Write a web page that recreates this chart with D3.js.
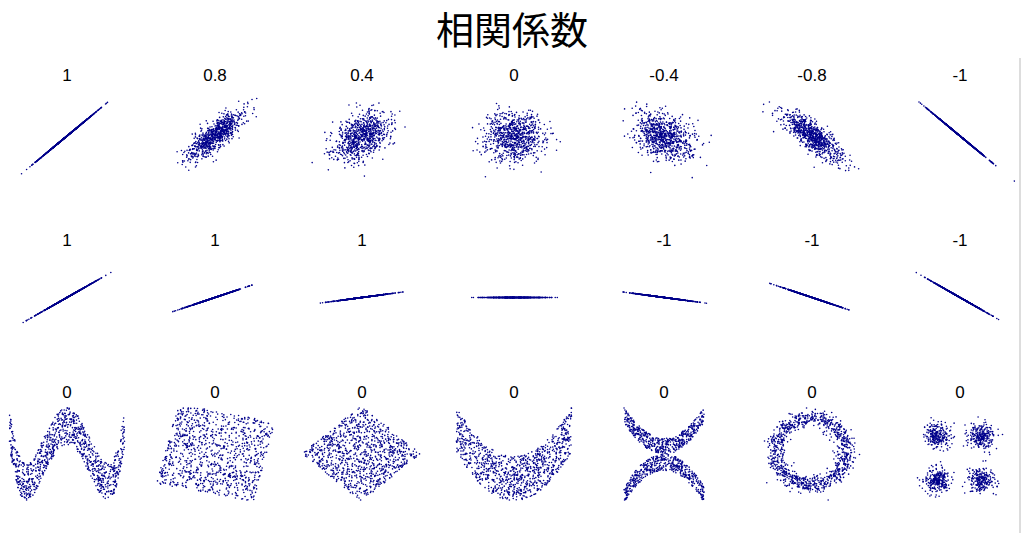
<!DOCTYPE html><html><head><meta charset="utf-8">
<script src="https://cdn.jsdelivr.net/npm/d3@7"></script>
<style>body{margin:0;background:#fff}text{font-family:"Liberation Sans",Arial,sans-serif}</style></head><body>
<svg id="c" width="1024" height="533"></svg>
<script>
const title="相関係数";
const row1Labels=["1","0.8","0.4","0","-0.4","-0.8","-1"];
const row1Corr=[1,0.8,0.4,0,-0.4,-0.8,-1];
const row2Labels=["1","1","1","","-1","-1","-1"];
const row2Slopes=[0.85,0.5,0.2,0,-0.2,-0.5,-0.85];
const row3Labels=["0","0","0","0","0","0","0"];
const row3Shapes=["w","tilt","diamond","parabola","x","ring","clusters"];
const colCenters=[67,215,362,514,664,812,960];

const svg=d3.select("#c");
const col="#00008b";
svg.append("text").attr("x",512).attr("y",44).attr("text-anchor","middle")
 .style("font-family","'Noto Sans CJK JP'").attr("font-size",38).text(title);
svg.append("line").attr("x1",1020).attr("x2",1020).attr("y1",58).attr("y2",533).attr("stroke","#bbb");

function h(i,s){const v=Math.sin(i*12.9898+s*78.233)*43758.5453;return v-Math.floor(v);}
function samp(n,off){const a=[];for(let i=1;i<=n;i++){const k=i+off;
 const u1=Math.max(h(k,1),1e-6),u2=h(k,2),u3=h(k,3),u4=h(k,4),u5=Math.max(h(k,5),1e-6),u6=h(k,6),u7=h(k,7);
 const R=Math.sqrt(-2*Math.log(u1)),R2=Math.sqrt(-2*Math.log(u5));
 a.push({u2,u3,u4,u7,z1:R*Math.cos(2*Math.PI*u2),z3:R2*Math.cos(2*Math.PI*u6)});}return a;}
function dots(g,pts,x,y){g.selectAll("circle").data(pts).join("circle").attr("cx",d=>x(d[0])).attr("cy",d=>y(d[1])).attr("r",0.8).attr("fill",col);}
function label(t,cx,y){svg.append("text").attr("x",cx).attr("y",y).attr("text-anchor","middle").attr("font-size",17).text(t);}

// Row 1
row1Corr.forEach((r,i)=>{const cx=colCenters[i];label(row1Labels[i],cx,81);
 const x=d3.scaleLinear().domain([-3.3,3.3]).range([cx-47,cx+47]);
 const y=d3.scaleLinear().domain([-3.3,3.3]).range([175,97]);
 const pts=samp(800,i*1000+17).map(d=>[d.z1,r*d.z1+Math.sqrt(1-r*r)*d.z3]);
 dots(svg.append("g"),pts,x,y);});
// Row 2
row2Slopes.forEach((s,i)=>{const cx=colCenters[i];if(row2Labels[i])label(row2Labels[i],cx,246);
 const x=d3.scaleLinear().domain([-3,3]).range([cx-44,cx+44]);
 const y=d3.scaleLinear().domain([-3,3]).range([327,268]);
 const pts=samp(600,i*1000+5000).map(d=>[d.z1,s*d.z1]).filter(p=>Math.abs(p[0])<3);
 dots(svg.append("g"),pts,x,y);});
// Row 3
row3Shapes.forEach((sh,i)=>{const cx=colCenters[i];label(row3Labels[i],cx,398);
 const S=samp(1000,i*1000+12000);let pts;
 if(sh=="w")pts=S.map(d=>{const x=d.u3*2-1;return[x,4*(x*x-0.5)**2+(d.u4*2-1)/3];});
 else if(sh=="tilt"||sh=="diamond"){const a=sh=="tilt"?-Math.PI/14:Math.PI/4;pts=S.map(d=>{const x=d.u3*2-1,y=d.u4*2-1;return[x*Math.cos(a)-y*Math.sin(a),x*Math.sin(a)+y*Math.cos(a)];});}
 else if(sh=="parabola")pts=S.map(d=>{const x=d.u3*2-1;return[x,2*x*x+(d.u4*2-1)*0.9];});
 else if(sh=="x")pts=S.map(d=>{const x=d.u3*2-1;return[x,(x*x+d.u4/2)*(d.u7<0.5?1:-1)];});
 else if(sh=="ring")pts=S.map(d=>{const t=d.u3*2*Math.PI;return[Math.sin(t)+d.z1/8,Math.cos(t)+d.z3/8];});
 else pts=S.map(d=>{const q=Math.floor(d.u7*4);return[d.z1+(q%2?3.5:-3.5),d.z3+(q<2?3.5:-3.5)];});
 let w=sh=="clusters"?85:(sh=="ring"?95:(sh=="x"?80:115)),hh=sh=="clusters"?80:92;
 const ex=d3.extent(pts,p=>p[0]),ey=d3.extent(pts,p=>p[1]);
 const x=d3.scaleLinear().domain(ex).range([cx-w/2,cx+w/2]);
 const y=d3.scaleLinear().domain(ey).range([sh=="clusters"?497:500,sh=="clusters"?417:408]);
 dots(svg.append("g"),pts,x,y);});
</script></body></html>
